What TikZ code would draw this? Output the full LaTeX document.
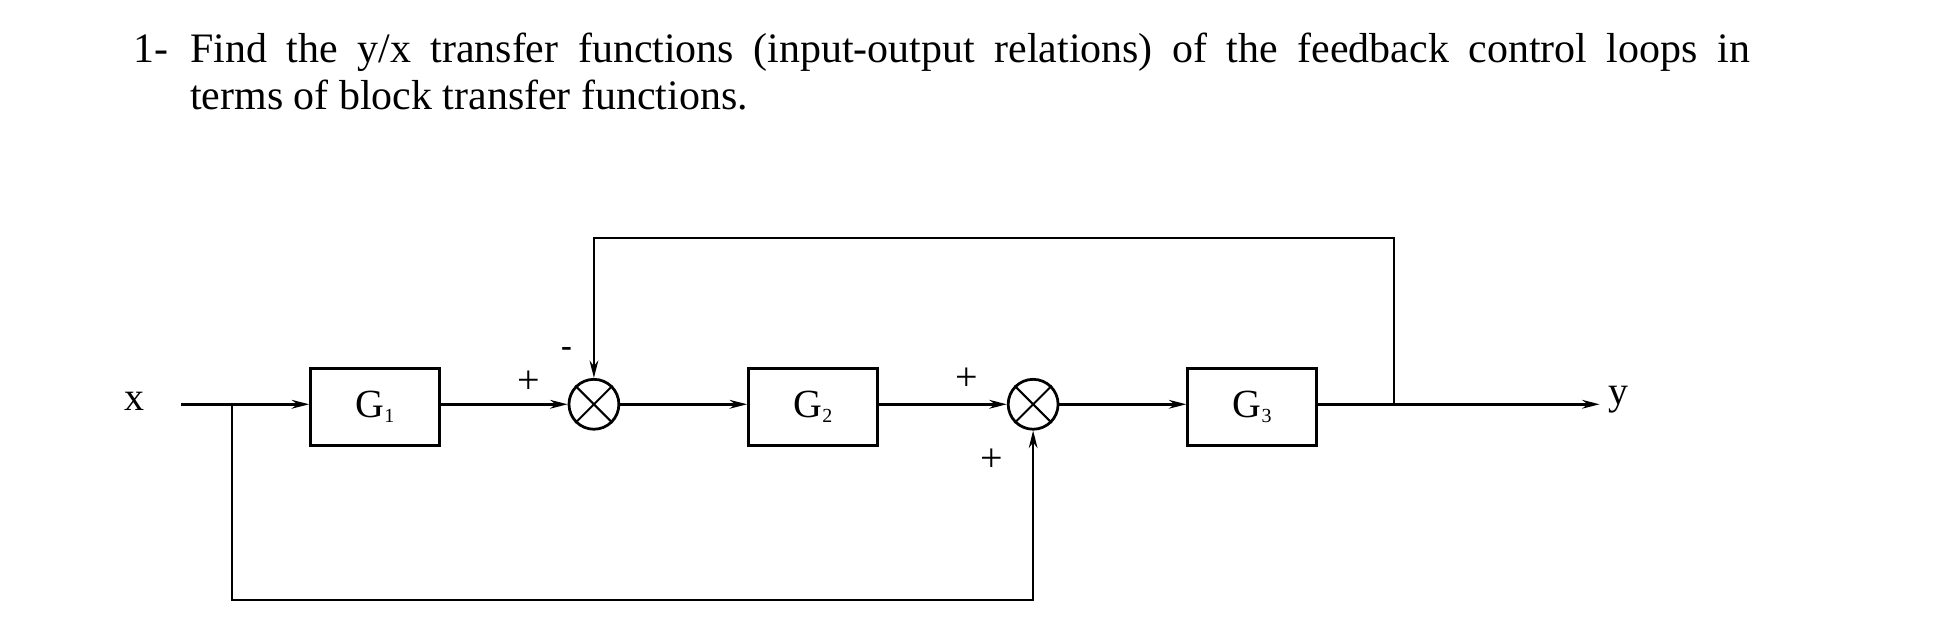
\documentclass[tikz,border=0pt]{standalone}
\usepackage{fontspec}
\setmainfont{Liberation Serif}
\usetikzlibrary{arrows.meta,shapes.geometric}
\begin{document}
\begin{tikzpicture}[x=0.5pt,y=-0.5pt,
  blk/.style={draw,line width=1.2pt,minimum width=51.5pt,minimum height=31pt,inner sep=0pt,font=\fontsize{16}{18}\selectfont},
  sum/.style={draw,line width=1.1pt,circle,minimum size=20pt,inner sep=0pt},
  sig/.style={line width=1.1pt,-{Stealth[length=7pt,width=3.5pt]}},
  fb/.style={line width=0.9pt},
  lbl/.style={font=\fontsize{16}{19}\selectfont},
  ttl/.style={font=\fontsize{16.8}{19}\selectfont}]
\useasboundingbox (0,0) rectangle (1550,498.5);
\node[ttl,anchor=base west] (num) at (100,50) {1-};
\node[ttl,anchor=north west,text width=625pt,align=justify,inner sep=0pt] (title) at (152,26)
 {Find the y/x transfer functions (input-output relations) of the feedback control loops in\linebreak terms of block transfer functions.};
\node[lbl] (x) at (108,322) {x};
\node[lbl] (y) at (1297,320) {y};
\node[blk] (g1) at (300.5,326) {G\raisebox{-0.25ex}{\footnotesize 1}};
\node[blk] (g2) at (651.5,326) {G\raisebox{-0.25ex}{\footnotesize 2}};
\node[blk] (g3) at (1003.5,326) {G\raisebox{-0.25ex}{\footnotesize 3}};
\node[sum] (s1) at (476,324) {};
\node[sum] (s2) at (828,324) {};
\foreach \s in {s1,s2}{
  \draw[line width=0.8pt] (\s.north west) -- (\s.south east) (\s.north east) -- (\s.south west);}
\coordinate (xs) at (145,324);
\coordinate (br) at (186,324);
\coordinate (tap) at (1117,324);
\coordinate (yend) at (1282,324);
\coordinate (t1) at (476,191);
\coordinate (t2) at (1117,191);
\coordinate (b1) at (186,481);
\coordinate (b2) at (828,481);
\draw[sig] (xs) -- (g1.west|-xs);
\draw[sig] (g1.east|-xs) -- (s1.west);
\draw[sig] (s1.east) -- (g2.west|-xs);
\draw[sig] (g2.east|-xs) -- (s2.west);
\draw[sig] (s2.east) -- (g3.west|-xs);
\draw[sig] (g3.east|-xs) -- (yend);
\draw[fb,-{Stealth[length=7pt,width=3.5pt]}] (tap) -- (t2) -- (t1) -- (s1.north);
\draw[fb,-{Stealth[length=7pt,width=3.5pt]}] (br) -- (b1) -- (b2) -- (s2.south);
\node[lbl] (p1) at (424,306) {+};
\node[lbl,font=\bfseries\fontsize{13}{15}\selectfont] (m1) at (454,282) {-};
\node[lbl] (p2) at (775,304) {+};
\node[lbl] (p3) at (795,369) {+};
\end{tikzpicture}
\end{document}
